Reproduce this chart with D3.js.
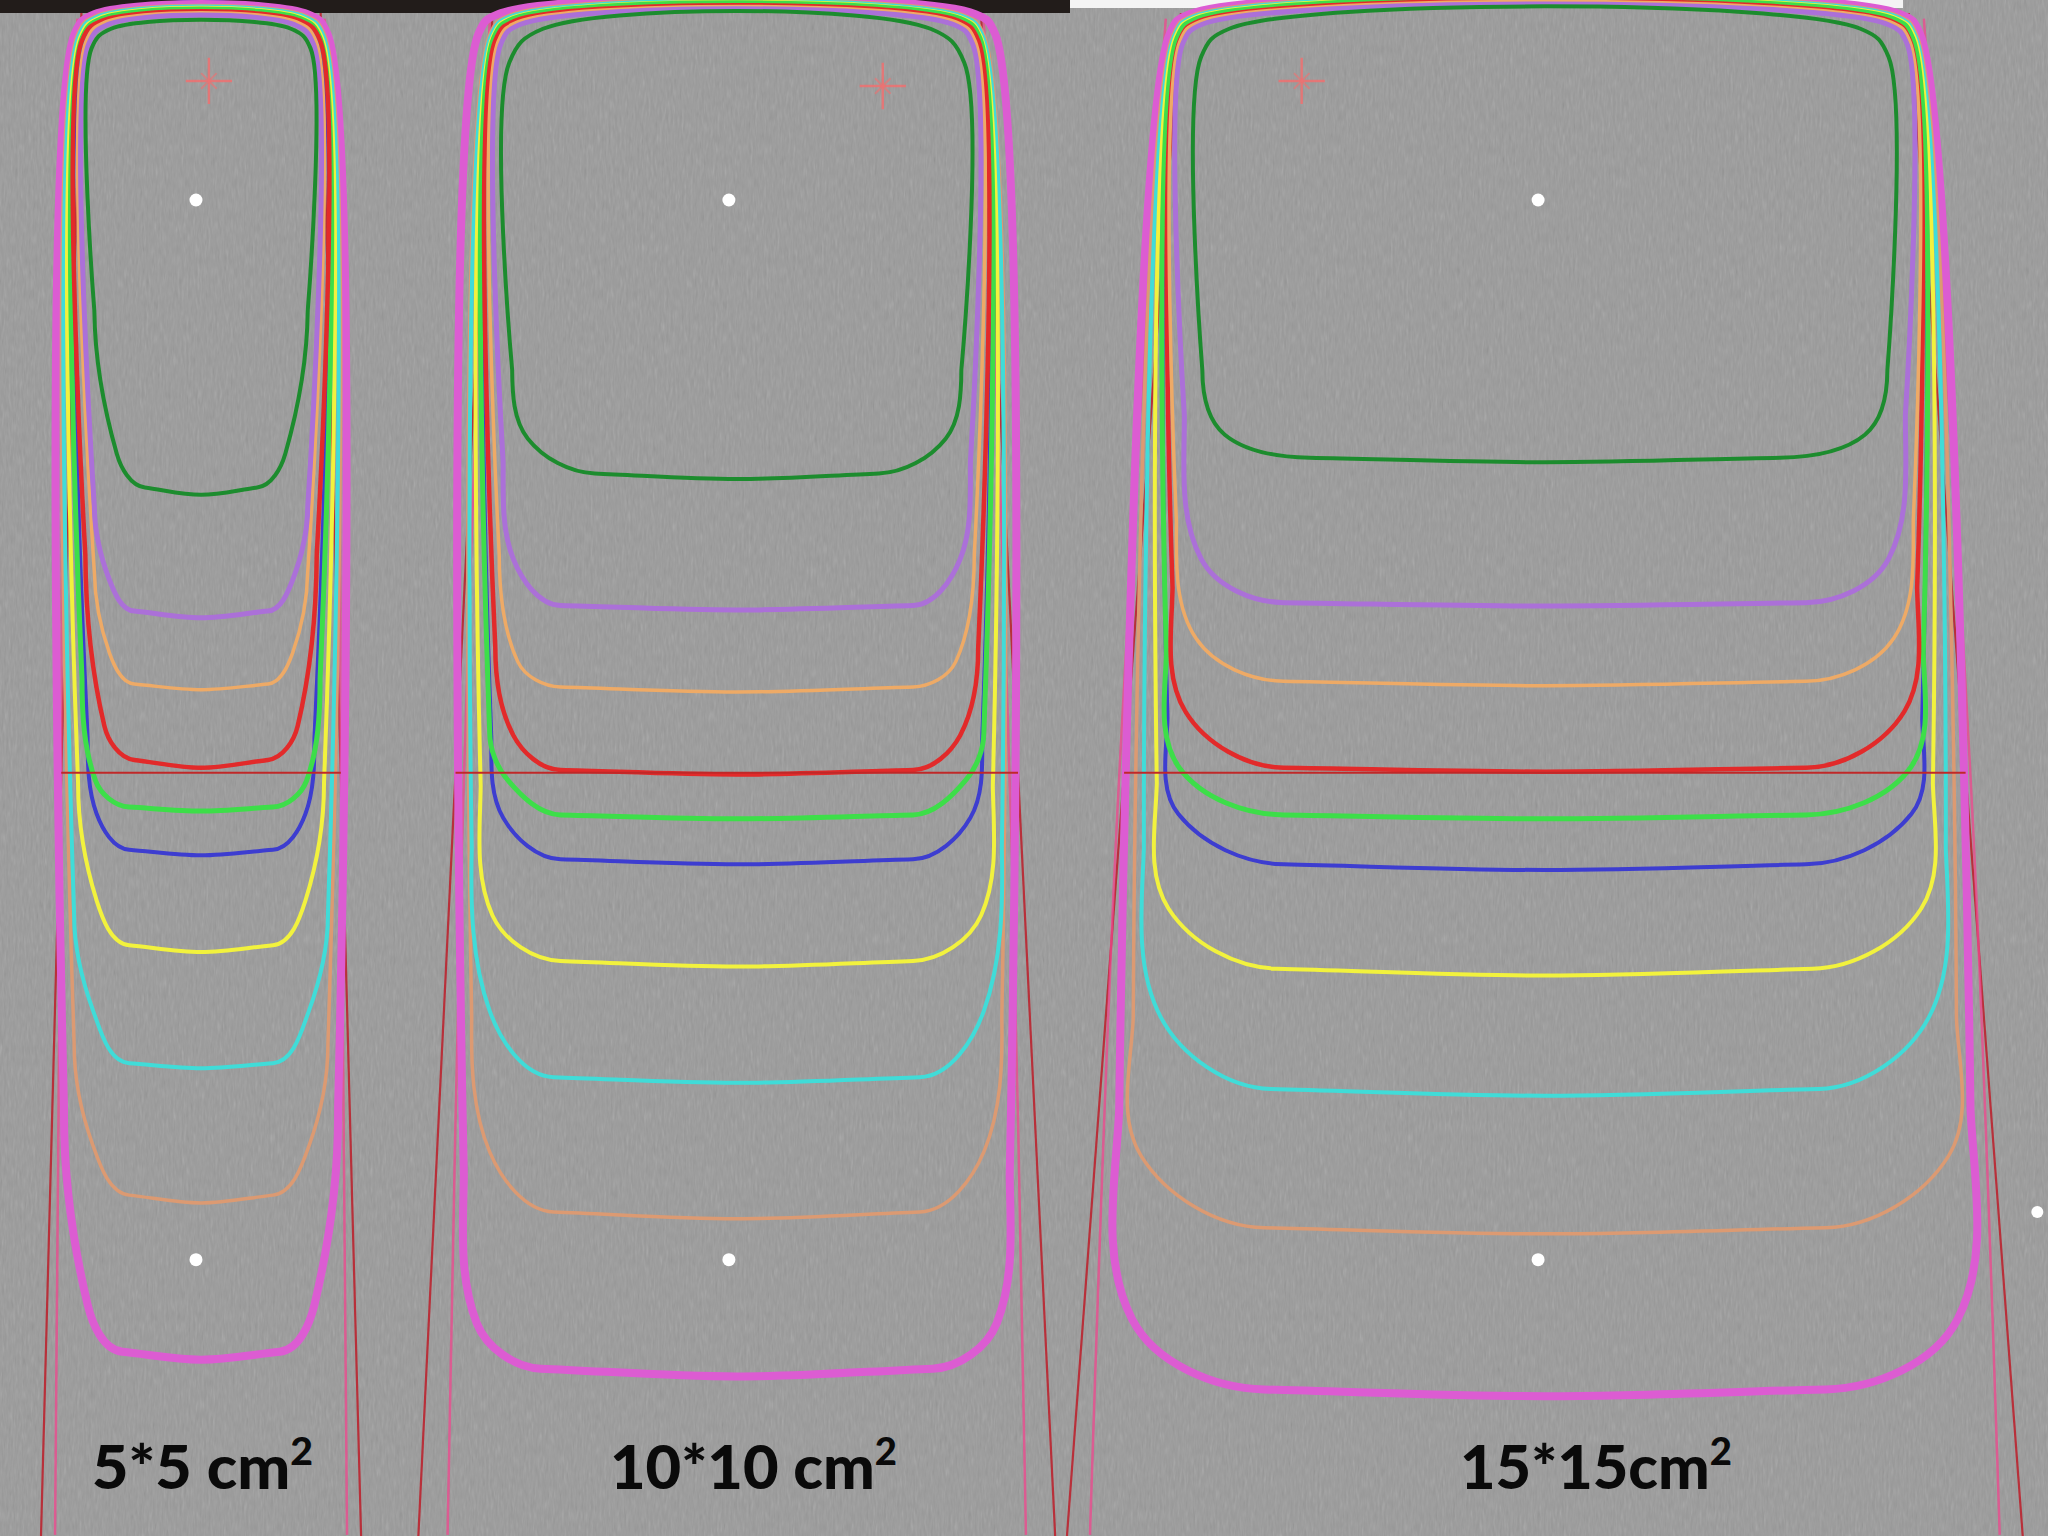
<!DOCTYPE html>
<html>
<head>
<meta charset="utf-8">
<script src="https://cdn.jsdelivr.net/npm/d3@7"></script>
<style>
 body{margin:0;background:#999;overflow:hidden;}
 svg{display:block;}
</style>
</head>
<body>
<div id="chartDiv"></div>
<script>
// Field labels and where each field axis sits (cm from left edge of the picture)
var fieldLabel  = ["5*5 cm", "10*10 cm", "15*15cm"];
var fieldCenter = [3.58, 13.12, 27.51];

// Isodose levels, innermost first (in cm)
var isoLevels = [95, 90, 85, 80, 75, 70, 60, 50, 40, 30];

// each row: [topDepth, topHalfW, sideHalfW, kneeDepth, cornerHalfW, cornerDepth, flatHalfW, flatDepth, bottomDepth]
var iso5 = [
 [0.28, 1.95, 1.90,  5.30, 1.50,  7.85, 1.00,  8.45,  8.58],
 [0.20, 2.00, 1.90,  8.80, 1.63, 10.10, 1.19, 10.65, 10.77],
 [0.16, 2.05, 1.90,  9.95, 1.63, 11.40, 1.19, 11.95, 12.05],
 [0.14, 2.12, 2.06,  9.65, 1.72, 12.70, 1.19, 13.30, 13.44],
 [0.10, 2.12, 2.12, 11.85, 1.88, 13.67, 1.28, 14.14, 14.21],
 [0.12, 2.08, 2.02, 12.90, 1.86, 14.26, 1.28, 14.90, 15.00],
 [0.08, 2.15, 2.19, 13.70, 1.86, 15.80, 1.28, 16.60, 16.72],
 [0.06, 2.18, 2.26, 16.05, 1.91, 17.80, 1.28, 18.70, 18.79],
 [0.04, 2.20, 2.26, 18.35, 1.93, 20.15, 1.28, 21.05, 21.19],
 [0.02, 2.25, 2.44, 19.50, 2.02, 23.00, 1.40, 23.84, 23.98]
];
var iso10 = [
 [0.28, 4.05, 4.00,  6.35, 3.72,  7.58, 2.53,  8.20,  8.30],
 [0.20, 4.20, 4.16,  8.00, 3.98,  9.72, 3.14, 10.55, 10.63],
 [0.16, 4.25, 4.23,  9.65, 3.90, 11.55, 3.14, 12.00, 12.09],
 [0.14, 4.30, 4.30, 11.30, 3.98, 12.86, 3.14, 13.48, 13.56],
 [0.10, 4.33, 4.40, 12.80, 4.07, 13.67, 3.14, 14.28, 14.35],
 [0.12, 4.30, 4.37, 12.95, 4.16, 14.33, 3.14, 15.07, 15.16],
 [0.08, 4.35, 4.56, 13.77, 4.35, 16.07, 3.14, 16.88, 16.98],
 [0.06, 4.38, 4.72, 14.88, 4.40, 17.77, 3.26, 18.95, 19.05],
 [0.04, 4.40, 4.72, 17.90, 4.40, 20.28, 3.26, 21.35, 21.47],
 [0.02, 4.60, 4.86, 20.70, 4.63, 23.33, 3.49, 24.14, 24.28]
];
var iso15 = [
 [0.28, 6.12, 6.10,  6.35, 5.70,  7.51, 4.19,  7.92,  8.00],
 [0.20, 6.45, 6.42,  7.16, 6.12,  9.72, 4.65, 10.50, 10.56],
 [0.16, 6.50, 6.56,  9.07, 6.21, 11.14, 4.65, 11.90, 11.98],
 [0.14, 6.50, 6.63, 10.23, 6.40, 12.44, 4.65, 13.44, 13.51],
 [0.10, 6.55, 6.74, 11.40, 6.51, 13.44, 4.65, 14.28, 14.35],
 [0.12, 6.52, 6.72, 12.56, 6.53, 14.26, 4.65, 15.16, 15.26],
 [0.08, 6.58, 6.91, 13.72, 6.70, 15.95, 4.77, 17.02, 17.14],
 [0.06, 6.60, 7.14, 14.88, 6.84, 17.88, 4.88, 19.16, 19.28],
 [0.04, 6.62, 7.33, 17.90, 7.19, 20.35, 5.00, 21.63, 21.74],
 [0.02, 6.68, 7.58, 19.53, 7.35, 23.26, 5.00, 24.51, 24.63]
];
var isoByField = [iso5, iso10, iso15];

// low dose curve that leaves the bottom of the picture: half widths at these depths
var openDepth = [0.1, 3, 15, 27.1];
var openHalfW = [[2.20, 2.40, 2.50, 2.60], [4.40, 4.50, 4.90, 5.15], [6.75, 6.95, 7.65, 8.10]];

// geometric beam edges (half width at surface and at 27.1 cm), isocentre depth
var edgeTop    = [2.13, 4.35, 6.48];
var edgeBottom = [2.85, 5.67, 8.51];
var isoDepth   = 13.53;

// markers: white reference dots [lateral offset, depth], red stars [lateral offset, depth]
var dotDepth   = [3.33, 22.2];
var dotOffset  = [-0.09, -0.14, -0.12];
var extraDot   = [36.28, 21.35];
var starOffset = [[0.14, 1.21], [2.60, 1.30], [-4.33, 1.21]];

//Styles
var isoColor = ["#1f8c2e", "#ab70d8", "#eeaa66", "#e22a2a", "#3ede4a",
                "#3c3cd0", "#f2f23e", "#40dcd8", "#dc9a72", "#dc5cd2"];
var isoWidth = [4, 5, 3.5, 4.5, 5, 4, 4, 4, 3.5, 8];
var labelWidth = [221, 287, 272];
var labelStart = [92, 610, 1460];

var W = 2048, H = 1536, maxDepth = 27.12;
var x = d3.scaleLinear().domain([0, 36.47]).range([0, W]);
var y = d3.scaleLinear().domain([0, maxDepth]).range([13, H]);

var svg = d3.select("#chartDiv").append("svg")
  .attr("width", W).attr("height", H);

var defs = svg.append("defs");
var grain = defs.append("filter").attr("id", "grain")
  .attr("x", 0).attr("y", 0).attr("width", 1).attr("height", 1);
grain.append("feTurbulence").attr("type", "fractalNoise")
  .attr("baseFrequency", "0.45 0.09").attr("numOctaves", 2).attr("seed", 7);
grain.append("feColorMatrix").attr("type", "saturate").attr("values", 0);
grain.append("feComponentTransfer").append("feFuncA")
  .attr("type", "table").attr("tableValues", "0 0.26");
defs.append("filter").attr("id", "soft")
  .append("feGaussianBlur").attr("stdDeviation", 0.7);
defs.append("filter").attr("id", "glow")
  .append("feGaussianBlur").attr("stdDeviation", 2.2);
defs.append("filter").attr("id", "band")
  .append("feGaussianBlur").attr("stdDeviation", 2.5);

svg.append("rect")			//gray backdrop
  .attr("width", W).attr("height", H).attr("fill", "#999999");
svg.append("rect")			//film grain over it
  .attr("width", W).attr("height", H).attr("filter", "url(#grain)");

svg.append("line")			//dark scanner band near bottom
  .attr("x1", 0).attr("x2", W).attr("y1", 1452).attr("y2", 1452)
  .attr("stroke", "#555555").attr("stroke-width", 5)
  .attr("opacity", 0.5).attr("filter", "url(#band)");

//Top strip of the original screen grab
svg.append("rect").attr("x", 0).attr("y", 0).attr("width", 1070).attr("height", 13).attr("fill", "#221c1a");
svg.append("rect").attr("x", 1070).attr("y", 0).attr("width", 833).attr("height", 8).attr("fill", "#f4f4f4");
svg.selectAll(".topglow")
  .data(fieldCenter.slice(0, 2))
  .enter().append("ellipse")
  .attr("cx", function(d){ return x(d); }).attr("cy", 4)
  .attr("rx", 26).attr("ry", 7)
  .attr("fill", "#3030e0").attr("filter", "url(#glow)");

var topLine = d3.line().curve(d3.curveCatmullRom.alpha(0.5));	//sides + top
var openLine = d3.line().curve(d3.curveCatmullRom.alpha(0.5));

function unit(a, b){ var dx = b[0] - a[0], dy = b[1] - a[1], l = Math.hypot(dx, dy) || 1; return [dx / l, dy / l]; }

function isoPath(r, c, rad){		//Outline of one isodose: catmull-rom over the top, rounded hermite bottom
 var tD = r[0], tW = r[1], sW = r[2], kD = r[3], cW = r[4], cD = r[5], fW = r[6], fD = r[7], bD = r[8];
 var px = function(p){ return [x(c + p[0]), y(p[1])]; };
 var upper = [[sW, kD], [tW, tD + rad], [tW - rad, tD], [-(tW - rad), tD], [-tW, tD + rad], [-sW, kD]].map(px);

 var KL = px([-sW, kD]), CL = px([-cW, cD]), FL = px([-fW, fD]), B = px([0, bD]),
     FR = px([fW, fD]), CR = px([cW, cD]), KR = px([sW, kD]);
 var nodes = [
  {p: KL, d: unit(upper[4], KL)},		//carry on down from the top corner
  {p: CL, d: unit(KL, FL)},
  {p: FL, d: unit(FL, B)},
  {p: B,  d: [1, 0]},
  {p: FR, d: unit(B, FR)},
  {p: CR, d: unit(FR, KR)},
  {p: KR, d: unit(KR, upper[1])}
 ];
 var p = d3.path();
 p.moveTo(KL[0], KL[1]);
 for(var i = 1; i < nodes.length; i++){
  var a = nodes[i - 1], b = nodes[i];
  var L = Math.hypot(b.p[0] - a.p[0], b.p[1] - a.p[1]) / 3;
  p.bezierCurveTo(a.p[0] + a.d[0] * L, a.p[1] + a.d[1] * L,
                  b.p[0] - b.d[0] * L, b.p[1] - b.d[1] * L, b.p[0], b.p[1]);
 }
 return topLine(upper) + p.toString();
}

var topRadius = [0.35, 0.6, 0.5];

fieldCenter.forEach(function(c, f){
 var g = svg.append("g").attr("class", "field");

 //beam edges
 var edge = d3.scaleLinear().domain([0, maxDepth]).range([edgeTop[f], edgeBottom[f]]);
 [-1, 1].forEach(function(s){
  g.append("line")
   .attr("x1", x(c + s * edge(0))).attr("y1", y(0))
   .attr("x2", x(c + s * edge(maxDepth))).attr("y2", y(maxDepth))
   .attr("stroke", "#b8303a").attr("stroke-width", 2.2);
 });

 //open low dose curve
 [-1, 1].forEach(function(s){
  var pts = openDepth.map(function(d, i){ return [x(c + s * openHalfW[f][i]), y(d)]; });
  g.append("path").attr("d", openLine(pts))
   .attr("fill", "none").attr("stroke", "#f0468e").attr("stroke-width", 2.5)
   .attr("opacity", 0.75).attr("filter", "url(#soft)");
 });

 //isodose curves, outermost first
 var rows = isoByField[f];
 for(var i = rows.length - 1; i >= 0; i--){
  var rad = i === 0 ? topRadius[f] : 0.35;
  g.append("path")
   .attr("d", isoPath(rows[i], c, rad))
   .attr("fill", "none")
   .attr("stroke", isoColor[i])
   .attr("stroke-width", isoWidth[i])
   .attr("stroke-linejoin", "round")
   .attr("stroke-linecap", "round")
   .attr("filter", "url(#soft)");
 }

 //isocentre plane line between beam edges
 g.append("line")
  .attr("x1", x(c - edge(isoDepth))).attr("x2", x(c + edge(isoDepth)))
  .attr("y1", y(isoDepth)).attr("y2", y(isoDepth))
  .attr("stroke", "#c02828").attr("stroke-width", 2);

 //reference dots
 dotDepth.forEach(function(d){
  g.append("circle")
   .attr("cx", x(c + dotOffset[f])).attr("cy", y(d)).attr("r", 6.5)
   .attr("fill", "#ffffff").attr("filter", "url(#soft)");
 });

 //red star marker: a plus with faint diagonals
 var star = g.append("g")
  .attr("transform", "translate(" + x(c + starOffset[f][0]) + "," + y(starOffset[f][1]) + ")")
  .attr("fill", "none").attr("stroke", "#f07070").attr("filter", "url(#soft)");
 star.append("path").attr("d", d3.symbol(d3.symbolPlus, 700)())
  .attr("stroke-width", 2.4).attr("opacity", 0.85);
 star.append("path").attr("d", d3.symbol(d3.symbolTimes, 160)())
  .attr("stroke-width", 2).attr("opacity", 0.6);

 //label
 var t = svg.append("text")
  .attr("x", labelStart[f]).attr("y", 1489)
  .style("font-family", "Lato, 'Open Sans', sans-serif")
  .style("font-weight", 900).style("font-size", "61px")
  .attr("fill", "#0a0a0a");
 t.append("tspan").text(fieldLabel[f]);
 t.append("tspan").attr("dy", -24).style("font-size", "38px").text("2");
 var bw = t.node().getBBox().width;
 var k = labelWidth[f] / bw;
 t.attr("transform", "translate(" + labelStart[f] * (1 - k) + ",0) scale(" + k + ",1)");
});

svg.append("circle")			//stray dot at the right edge
  .attr("cx", x(extraDot[0])).attr("cy", y(extraDot[1])).attr("r", 6)
  .attr("fill", "#ffffff").attr("filter", "url(#soft)");
</script>
</body>
</html>
